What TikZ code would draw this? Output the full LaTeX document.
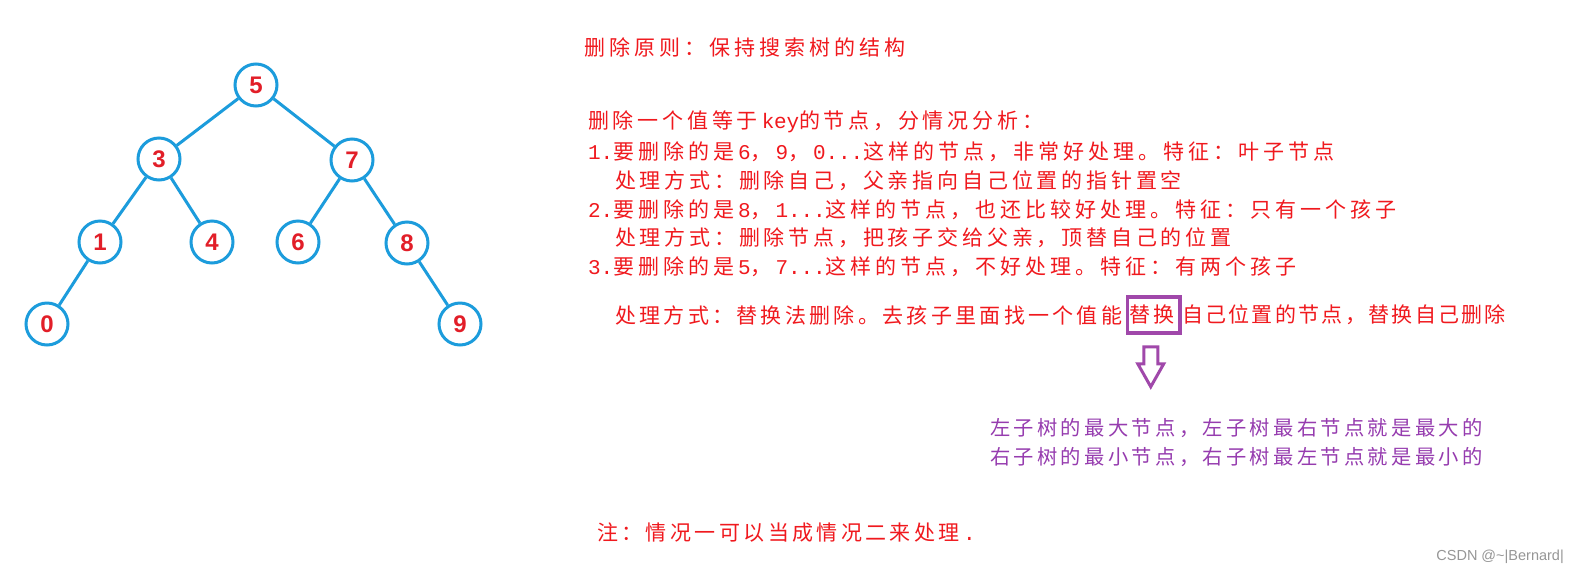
\documentclass[tikz,border=0pt]{standalone}
\usepackage{fontspec}
\newfontfamily\cjk{Noto Sans CJK SC}
\newfontfamily\asc{Liberation Mono}
\newfontfamily\numfont{Liberation Sans}
\newlength\gpitch
\makeatletter
\newcommand\gridtext[2]{\setlength\gpitch{#1}\@tfor\gch:=#2\do{\expandafter\gridone\gch}}
\newcommand\gridone[1]{\ifnum`#1<128 \makebox[.5\gpitch][l]{\asc #1}\else\makebox[\gpitch][l]{#1}\fi}
\makeatother
\definecolor{treeblue}{RGB}{28,156,220}
\definecolor{numred}{RGB}{226,30,40}
\definecolor{txtred}{RGB}{240,25,30}
\definecolor{boxpurple}{RGB}{160,72,170}
\definecolor{txtpurple}{RGB}{150,60,175}
\definecolor{wmgrey}{RGB}{150,150,150}
\begin{document}
\begin{tikzpicture}[x=1pt,y=-1pt,
  tnode/.style={circle, draw=treeblue, line width=3pt, minimum size=42pt, inner sep=0pt,
    font=\numfont\bfseries\fontsize{24}{24}\selectfont, text=numred},
  treeline/.style={treeblue, line width=3pt},
  txt/.style={anchor=west, inner sep=0pt, text=txtred, font=\cjk\fontsize{21}{21}\selectfont},
  ptxt/.style={anchor=west, inner sep=0pt, text=txtpurple, font=\cjk\fontsize{20.3}{20.3}\selectfont},
  pline/.style={draw=boxpurple, line width=3.5pt}
]
\useasboundingbox (0,0) rectangle (1579,574);
\fill[white] (0,0) rectangle (1579,574);

% tree
\node[tnode] (n5) at (256,85) {5};
\node[tnode] (n3) at (159,159) {3};
\node[tnode] (n7) at (352,160) {7};
\node[tnode] (n1) at (100,242) {1};
\node[tnode] (n4) at (212,242) {4};
\node[tnode] (n6) at (298,242) {6};
\node[tnode] (n8) at (407,243) {8};
\node[tnode] (n0) at (47,324) {0};
\node[tnode] (n9) at (460,324) {9};
\draw[treeline] (n5) -- (n3);
\draw[treeline] (n5) -- (n7);
\draw[treeline] (n3) -- (n1);
\draw[treeline] (n3) -- (n4);
\draw[treeline] (n7) -- (n6);
\draw[treeline] (n7) -- (n8);
\draw[treeline] (n1) -- (n0);
\draw[treeline] (n8) -- (n9);

% text
\node[txt] (t0) at (584,47) {\gridtext{25pt}{删除原则：保持搜索树的结构}};
\node[txt] (t1) at (588,122) {\gridtext{24.8pt}{删除一个值等于key的节点，分情况分析：}};
\node[txt] (t2) at (588,152) {\gridtext{25pt}{1.要删除的是6，9，0...这样的节点，非常好处理。特征：叶子节点}};
\node[txt] (t3) at (615,181) {\gridtext{24.8pt}{处理方式：删除自己，父亲指向自己位置的指针置空}};
\node[txt] (t4) at (588,210) {\gridtext{25pt}{2.要删除的是8，1...这样的节点，也还比较好处理。特征：只有一个孩子}};
\node[txt] (t5) at (615,238) {\gridtext{24.8pt}{处理方式：删除节点，把孩子交给父亲，顶替自己的位置}};
\node[txt] (t6) at (588,267) {\gridtext{25pt}{3.要删除的是5，7...这样的节点，不好处理。特征：有两个孩子}};
\node[txt] (t7a) at (615,315) {\gridtext{24.3pt}{处理方式：替换法删除。去孩子里面找一个值能}};
\node[txt, pline, anchor=west, inner xsep=2pt, minimum height=36pt] (rep) at (t7a.east) {\gridtext{24.3pt}{替换}};
\node[txt] (t7b) at (rep.east) {\gridtext{23.3pt}{自己位置的节点，替换自己删除}};

% hollow arrow
\path (rep.south) ++(-3,12) coordinate (at);
\draw[boxpurple, line width=3pt, line join=miter] (at) ++(-7,0) -- ++(14,0) -- ++(0,17) -- ++(6,0)
  -- ++(-13,23) -- ++(-13,-23) -- ++(6,0) -- cycle;

\node[ptxt] (p1) at (990,428) {\gridtext{23.6pt}{左子树的最大节点，左子树最右节点就是最大的}};
\node[ptxt] (p2) at (990,457) {\gridtext{23.6pt}{右子树的最小节点，右子树最左节点就是最小的}};

\node[txt] (note) at (597,533) {\gridtext{24.4pt}{注：情况一可以当成情况二来处理.}};

\node[anchor=east, inner sep=0pt, text=wmgrey, font=\numfont\fontsize{14.5}{14.5}\selectfont] (wm) at (1564,557) {CSDN @\textasciitilde|Bernard|};
\end{tikzpicture}
\end{document}
